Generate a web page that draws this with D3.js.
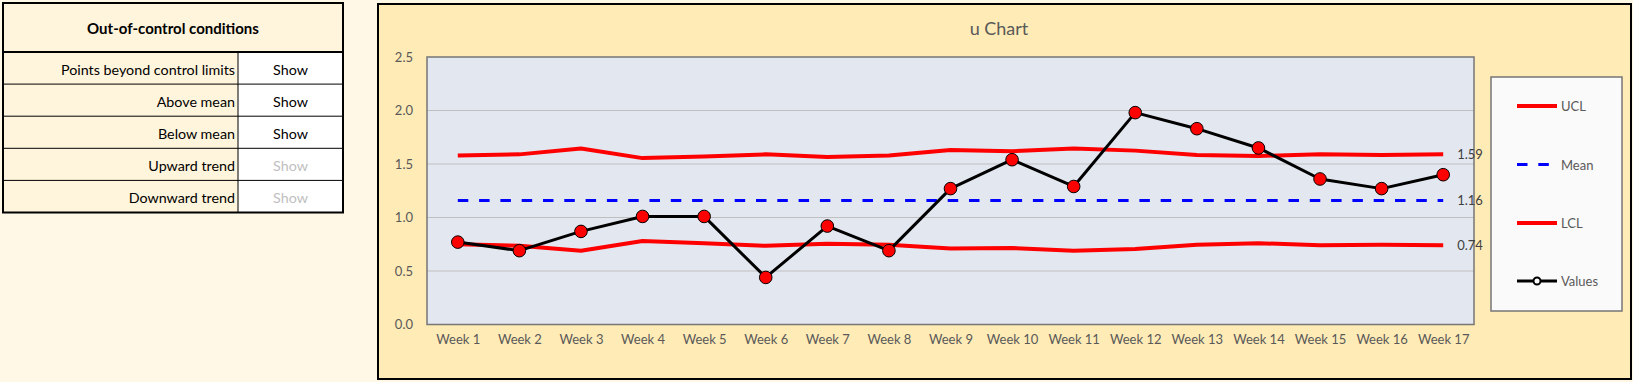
<!DOCTYPE html>
<html>
<head>
<meta charset="utf-8">
<script src="https://cdn.jsdelivr.net/npm/d3@7"></script>
<style>
  html, body { margin: 0; padding: 0; background: #fff8e6; }
  svg { display: block; font-family: Lato, 'Noto Sans', sans-serif; }
</style>
</head>
<body>
<svg id="vis" width="1633" height="382"></svg>
<script>
// Chart data
const weeks = ['Week 1', 'Week 2', 'Week 3', 'Week 4', 'Week 5', 'Week 6', 'Week 7', 'Week 8', 'Week 9',
  'Week 10', 'Week 11', 'Week 12', 'Week 13', 'Week 14', 'Week 15', 'Week 16', 'Week 17'];
const values = [0.77, 0.69, 0.87, 1.01, 1.01, 0.44, 0.92, 0.69, 1.27, 1.54, 1.29, 1.98, 1.83, 1.65, 1.36, 1.27, 1.40];
const ucl = [1.58, 1.59, 1.645, 1.555, 1.57, 1.59, 1.565, 1.58, 1.63, 1.62, 1.645, 1.625, 1.585, 1.575, 1.59, 1.585, 1.59];
const lcl = [0.75, 0.735, 0.69, 0.78, 0.76, 0.735, 0.755, 0.745, 0.71, 0.715, 0.69, 0.705, 0.745, 0.76, 0.74, 0.745, 0.74];
const meanValue = 1.16;
const yTicks = [0, 0.5, 1.0, 1.5, 2.0, 2.5];

// Out-of-control conditions table
const conditions = ['Points beyond control limits', 'Above mean', 'Below mean', 'Upward trend', 'Downward trend'];
const conditionOn = [true, true, true, false, false];

const svg = d3.select('#vis');

// ---------- table on the left ----------
const table = { x: 3, y: 3, w: 340, headH: 49, rowH: 32.1, splitX: 238 };
const tg = svg.append('g');

tg.append('rect')
  .attr('x', table.x).attr('y', table.y)
  .attr('width', table.w).attr('height', table.headH)
  .attr('fill', '#fff4dc');

tg.append('text')
  .attr('x', table.x + table.w / 2)
  .attr('y', table.y + table.headH / 2)
  .attr('text-anchor', 'middle')
  .attr('dominant-baseline', 'central')
  .style('font-size', '15px')
  .style('font-weight', 'bold')
  .attr('fill', '#000')
  .text('Out-of-control conditions');

conditions.forEach((c, i) => {
  const y0 = table.y + table.headH + i * table.rowH;
  tg.append('rect')
    .attr('x', table.x).attr('y', y0)
    .attr('width', table.splitX - table.x).attr('height', table.rowH)
    .attr('fill', '#fff4dc');
  tg.append('rect')
    .attr('x', table.splitX).attr('y', y0)
    .attr('width', table.x + table.w - table.splitX).attr('height', table.rowH)
    .attr('fill', '#ffffff');
  tg.append('line')
    .attr('x1', table.x).attr('x2', table.x + table.w)
    .attr('y1', y0).attr('y2', y0)
    .attr('stroke', '#000').attr('stroke-width', i === 0 ? 2 : 1);
  tg.append('text')
    .attr('x', table.splitX - 3)
    .attr('y', y0 + table.rowH / 2 + 1)
    .attr('text-anchor', 'end')
    .attr('dominant-baseline', 'central')
    .style('font-size', '14.3px')
    .attr('fill', '#000')
    .text(c);
  tg.append('text')
    .attr('x', (table.splitX + table.x + table.w) / 2)
    .attr('y', y0 + table.rowH / 2 + 1)
    .attr('text-anchor', 'middle')
    .attr('dominant-baseline', 'central')
    .style('font-size', '14.3px')
    .attr('fill', conditionOn[i] ? '#000' : '#c0c0c0')
    .text('Show');
});

const tableBottom = table.y + table.headH + conditions.length * table.rowH;
tg.append('line')
  .attr('x1', table.splitX).attr('x2', table.splitX)
  .attr('y1', table.y + table.headH).attr('y2', tableBottom)
  .attr('stroke', '#000').attr('stroke-width', 1);
tg.append('rect')
  .attr('x', table.x).attr('y', table.y)
  .attr('width', table.w).attr('height', tableBottom - table.y)
  .attr('fill', 'none').attr('stroke', '#000').attr('stroke-width', 2);

// ---------- chart ----------
svg.append('rect')
  .attr('x', 378).attr('y', 4)
  .attr('width', 1253).attr('height', 375)
  .attr('fill', '#ffebb6')
  .attr('stroke', '#000').attr('stroke-width', 2);

svg.append('text')
  .attr('x', 999).attr('y', 28)
  .attr('text-anchor', 'middle')
  .attr('dominant-baseline', 'central')
  .style('font-size', '18px')
  .attr('fill', '#595959')
  .text('u Chart');

const plot = { left: 427, right: 1474, top: 57, bottom: 324.5 };

const x = d3.scalePoint()
  .domain(weeks)
  .range([plot.left, plot.right])
  .padding(0.5);

const y = d3.scaleLinear()
  .domain([0, 2.5])
  .range([plot.bottom, plot.top]);

svg.append('rect')
  .attr('x', plot.left).attr('y', plot.top)
  .attr('width', plot.right - plot.left).attr('height', plot.bottom - plot.top)
  .attr('fill', '#e3e7f0');

// gridlines
svg.append('g')
  .selectAll('line')
  .data(yTicks.filter((d) => d > 0 && d < 2.5))
  .join('line')
  .attr('x1', plot.left).attr('x2', plot.right)
  .attr('y1', (d) => y(d)).attr('y2', (d) => y(d))
  .attr('stroke', '#bfbfbf').attr('stroke-width', 1);

svg.append('rect')
  .attr('x', plot.left).attr('y', plot.top)
  .attr('width', plot.right - plot.left).attr('height', plot.bottom - plot.top)
  .attr('fill', 'none')
  .attr('stroke', '#767676').attr('stroke-width', 1.5);

// y axis
const yAxis = svg.append('g')
  .attr('transform', `translate(${plot.left},0)`)
  .call(d3.axisLeft(y).tickValues(yTicks).tickFormat(d3.format('.1f')).tickSize(0).tickPadding(14));
yAxis.select('.domain').remove();
yAxis.selectAll('text')
  .style('font-family', 'Lato, sans-serif')
  .style('font-size', '13px')
  .attr('fill', '#595959');

// x axis
const xAxis = svg.append('g')
  .attr('transform', `translate(0,${plot.bottom})`)
  .call(d3.axisBottom(x).tickSize(0).tickPadding(10));
xAxis.select('.domain').remove();
xAxis.selectAll('text')
  .style('font-family', 'Lato, sans-serif')
  .style('font-size', '13px')
  .attr('fill', '#595959');

// limit lines
const line = d3.line()
  .x((d, i) => x(weeks[i]))
  .y((d) => y(d));

svg.append('path')
  .datum(ucl)
  .attr('d', line)
  .attr('fill', 'none')
  .attr('stroke', '#ff0000')
  .attr('stroke-width', 4)
  .attr('stroke-linejoin', 'round');

svg.append('path')
  .datum(lcl)
  .attr('d', line)
  .attr('fill', 'none')
  .attr('stroke', '#ff0000')
  .attr('stroke-width', 4)
  .attr('stroke-linejoin', 'round');

svg.append('line')
  .attr('x1', x(weeks[0])).attr('x2', x(weeks[weeks.length - 1]))
  .attr('y1', y(meanValue)).attr('y2', y(meanValue))
  .attr('stroke', '#0000ff')
  .attr('stroke-width', 3)
  .attr('stroke-dasharray', '10.5 10.8');

// values
svg.append('path')
  .datum(values)
  .attr('d', line)
  .attr('fill', 'none')
  .attr('stroke', '#000')
  .attr('stroke-width', 3)
  .attr('stroke-linejoin', 'round');

svg.append('g')
  .selectAll('circle')
  .data(values)
  .join('circle')
  .attr('cx', (d, i) => x(weeks[i]))
  .attr('cy', (d) => y(d))
  .attr('r', 6.3)
  .attr('fill', '#ff0000')
  .attr('stroke', '#000')
  .attr('stroke-width', 1);

// limit labels at the right end
const lastWeek = x(weeks[weeks.length - 1]);
[ucl[ucl.length - 1], meanValue, lcl[lcl.length - 1]].forEach((v) => {
  svg.append('text')
    .attr('x', lastWeek + 14)
    .attr('y', y(v))
    .attr('dominant-baseline', 'central')
    .style('font-size', '13px')
    .attr('fill', '#404040')
    .text(d3.format('.2f')(v));
});

// ---------- legend ----------
const legend = svg.append('g');
legend.append('rect')
  .attr('x', 1491).attr('y', 77)
  .attr('width', 131).attr('height', 234)
  .attr('fill', '#fafafa')
  .attr('stroke', '#767676').attr('stroke-width', 1.5);

const legendItems = [
  { label: 'UCL', color: '#ff0000', width: 4, dash: null, y: 106 },
  { label: 'Mean', color: '#0000ff', width: 3, dash: '10.5 10.8', y: 164.5 },
  { label: 'LCL', color: '#ff0000', width: 4, dash: null, y: 223 },
  { label: 'Values', color: '#000', width: 3, dash: null, y: 281, marker: true },
];

legendItems.forEach((d) => {
  legend.append('line')
    .attr('x1', 1517).attr('x2', 1557)
    .attr('y1', d.y).attr('y2', d.y)
    .attr('stroke', d.color)
    .attr('stroke-width', d.width)
    .attr('stroke-dasharray', d.dash);
  if (d.marker) {
    legend.append('circle')
      .attr('cx', 1537).attr('cy', d.y).attr('r', 3.5)
      .attr('fill', '#fff').attr('stroke', '#000').attr('stroke-width', 2);
  }
  legend.append('text')
    .attr('x', 1561).attr('y', d.y)
    .attr('dominant-baseline', 'central')
    .style('font-size', '13px')
    .attr('fill', '#595959')
    .text(d.label);
});
</script>
</body>
</html>
